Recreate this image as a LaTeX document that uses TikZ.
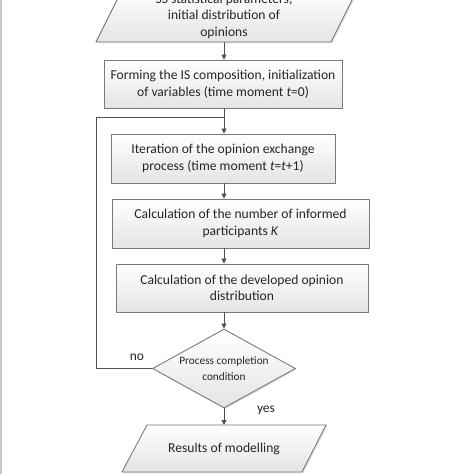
\documentclass[tikz,border=0pt]{standalone}
\usepackage{fontspec}
\setmainfont{Carlito}
\usetikzlibrary{arrows.meta,shapes.geometric,calc,shadows}
\definecolor{edge}{HTML}{7A7A7A}
\definecolor{conn}{HTML}{505050}
\definecolor{txtc}{HTML}{262626}
\definecolor{fillb}{HTML}{E4E4E4}
\tikzset{
  boxst/.style={draw=edge, line width=0.9pt, top color=white, bottom color=fillb,
    drop shadow={shadow xshift=1.2pt, shadow yshift=-1.2pt, fill=black!25},
    align=center, inner sep=0pt, text=txtc, font=\fontsize{13.6}{16.5}\selectfont},
  txtst/.style={align=center, inner sep=0pt, text=txtc, font=\fontsize{13.6}{16.5}\selectfont},
  smalltxt/.style={align=center, inner sep=0pt, text=txtc, font=\fontsize{11.3}{16}\selectfont},
  shapest/.style={draw=edge, line width=0.9pt, top color=white, bottom color=fillb,
    drop shadow={shadow xshift=1.2pt, shadow yshift=-1.2pt, fill=black!25}},
  conn/.style={draw=conn, line width=0.8pt},
  arr/.style={conn, -{Triangle[length=5pt,width=5pt]}},
  lbl/.style={inner sep=0pt, text=txtc, font=\fontsize{13.5}{16}\selectfont}
}
\begin{document}
\begin{tikzpicture}[x=1pt,y=-1pt]
\useasboundingbox (0,0) rectangle (474,474);
\clip (0,0) rectangle (474,474);
\fill[black!22] (0,0) rectangle (2,474);
% top parallelogram
\coordinate (inc) at (224,16);
\draw[shapest] ($(inc)+(-128,26)$) -- ($(inc)+(107,26)$)
  -- ($(inc)+(133,-26)$) -- ($(inc)+(-102,-26)$) -- cycle;
\node[txtst] (in) at (inc) {SS statistical parameters,\\initial distribution of\\opinions};
% boxes
\node[boxst, minimum width=238, minimum height=48] (b2) at (223,84)
  {Forming the IS composition, initialization\\of variables (time moment \textit{t}=0)};
\node[boxst, minimum width=224, minimum height=49] (b3) at (223,158.5)
  {Iteration of the opinion exchange\\process (time moment \textit{t}=\textit{t}+1)};
\node[boxst, minimum width=257, minimum height=49] (b4) at (240.5,223.5)
  {Calculation of the number of informed\\participants \textit{K}};
\node[boxst, minimum width=252, minimum height=48] (b5) at (242,288)
  {Calculation of the developed opinion\\distribution};
% diamond
\node[diamond, shapest, minimum width=143, minimum height=79, inner sep=0pt] (dia) at (224,368.5) {};
\node[smalltxt] (diat) at (224,369) {Process completion\\condition};
% results parallelogram
\coordinate (resc) at (224,448.5);
\draw[shapest] ($(resc)+(-77,-23.5)$) -- ($(resc)+(102,-23.5)$)
  -- ($(resc)+(78,23.5)$) -- ($(resc)+(-102,23.5)$) -- cycle;
\node[txtst] (res) at (resc) {Results of modelling};
% connectors
\coordinate (join) at (224,117);
\coordinate (lc) at (96,368.5);
\draw[arr] (224,42) -- (b2.north -| join);
\draw[conn] (b2.south -| join) -- (join);
\draw[arr] (join) -- (b3.north -| join);
\draw[arr] (b3.south -| join) -- (b4.north -| join);
\draw[arr] (b4.south -| join) -- (b5.north -| join);
\draw[arr] (b5.south -| join) -- (dia.north);
\draw[arr] (dia.south) -- (224,425);
\draw[conn] (dia.west) -- (lc) |- (join);
\node[lbl] (no) at (137,357) {no};
\node[lbl] (yes) at (266,410) {yes};
\end{tikzpicture}
\end{document}
